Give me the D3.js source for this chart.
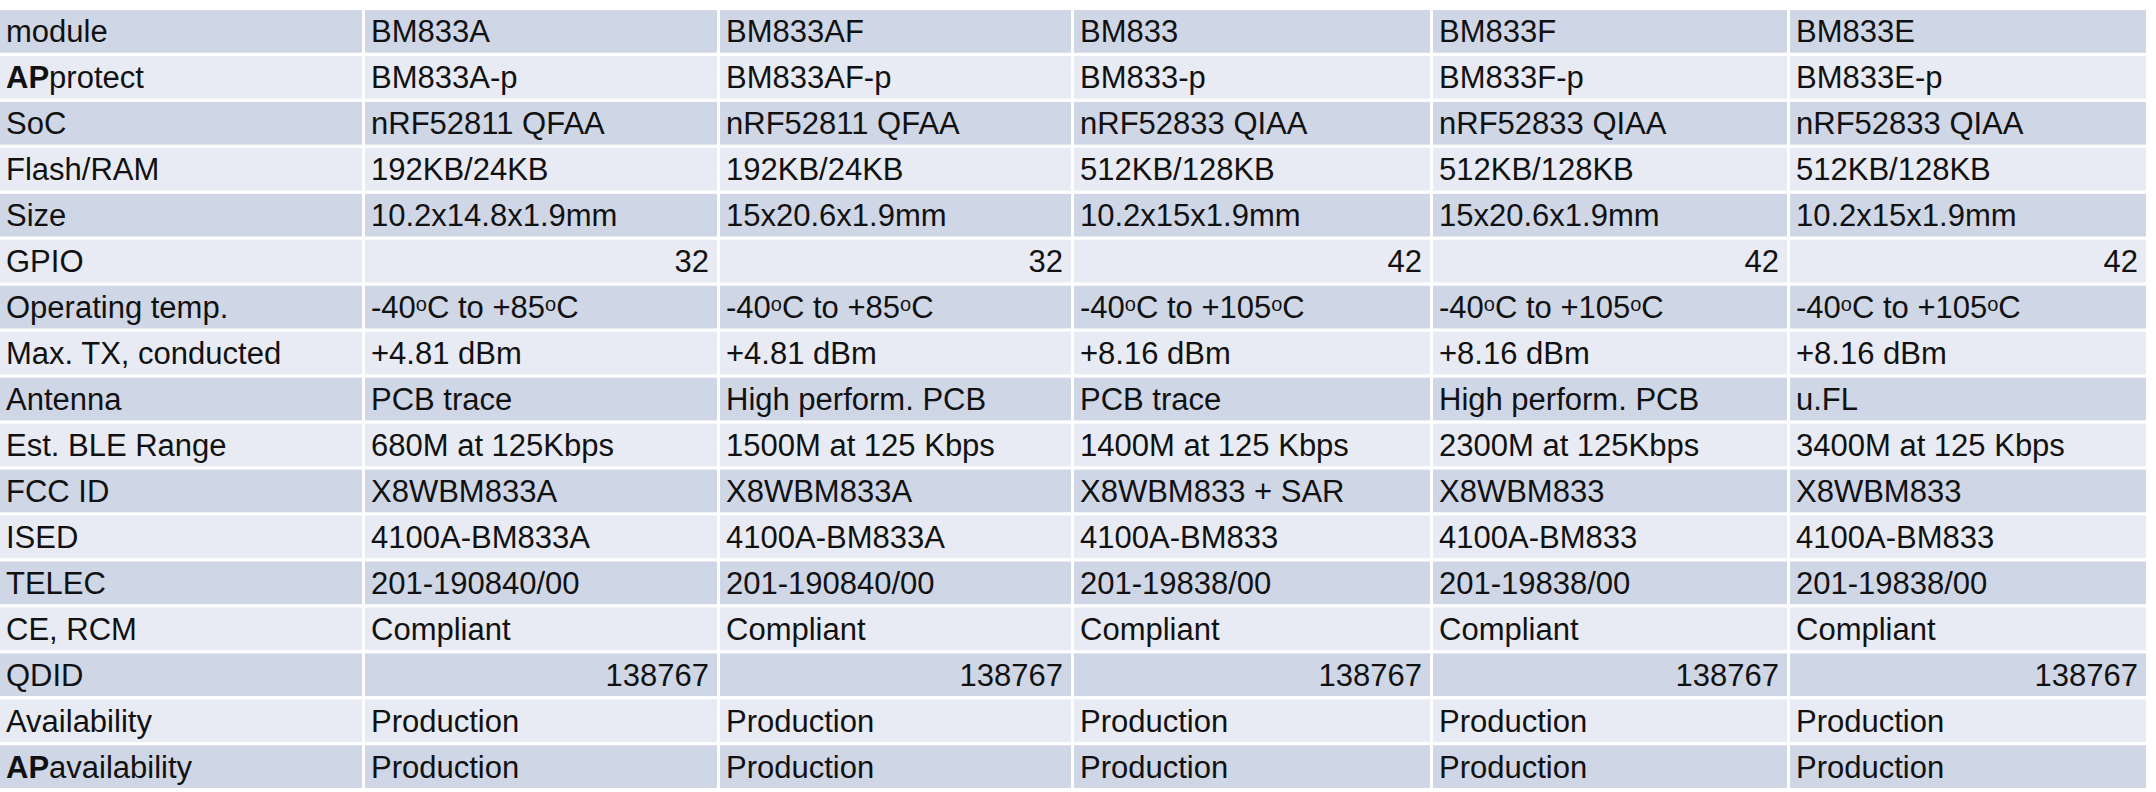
<html>
<body style="margin:0;background:#fff">
<div id="chart"></div>
<script src="https://d3js.org/d3.v7.min.js"></script>
<script>
// row labels (first column); "AP" prefix is drawn bold
var rowLabels = ["module", "APprotect", "SoC", "Flash/RAM", "Size", "GPIO", "Operating temp.",
  "Max. TX, conducted", "Antenna", "Est. BLE Range", "FCC ID", "ISED", "TELEC", "CE, RCM",
  "QDID", "Availability", "APavailability"];
var modules = ["BM833A", "BM833AF", "BM833", "BM833F", "BM833E"];
var approtect = ["BM833A-p", "BM833AF-p", "BM833-p", "BM833F-p", "BM833E-p"];
var soc = ["nRF52811 QFAA", "nRF52811 QFAA", "nRF52833 QIAA", "nRF52833 QIAA", "nRF52833 QIAA"];
var flashRam = ["192KB/24KB", "192KB/24KB", "512KB/128KB", "512KB/128KB", "512KB/128KB"];
var size = ["10.2x14.8x1.9mm", "15x20.6x1.9mm", "10.2x15x1.9mm", "15x20.6x1.9mm", "10.2x15x1.9mm"];
var gpio = [32, 32, 42, 42, 42];
var tempMax = ["+85", "+85", "+105", "+105", "+105"];
var maxTx = ["+4.81 dBm", "+4.81 dBm", "+8.16 dBm", "+8.16 dBm", "+8.16 dBm"];
var antenna = ["PCB trace", "High perform. PCB", "PCB trace", "High perform. PCB", "u.FL"];
var range = ["680M at 125Kbps", "1500M at 125 Kbps", "1400M at 125 Kbps", "2300M at 125Kbps", "3400M at 125 Kbps"];
var fccId = ["X8WBM833A", "X8WBM833A", "X8WBM833 + SAR", "X8WBM833", "X8WBM833"];
var ised = ["4100A-BM833A", "4100A-BM833A", "4100A-BM833", "4100A-BM833", "4100A-BM833"];
var telec = ["201-190840/00", "201-190840/00", "201-19838/00", "201-19838/00", "201-19838/00"];
var ceRcm = ["Compliant", "Compliant", "Compliant", "Compliant", "Compliant"];
var qdid = [138767, 138767, 138767, 138767, 138767];
var availability = ["Production", "Production", "Production", "Production", "Production"];
var apAvailability = ["Production", "Production", "Production", "Production", "Production"];

var rowValues = [modules, approtect, soc, flashRam, size, gpio, tempMax, maxTx, antenna, range,
  fccId, ised, telec, ceRcm, qdid, availability, apAvailability];

var W = 2156, H = 792;
var svg = d3.select("#chart").append("svg").attr("width", W).attr("height", H)
  .style("font-family", "'Liberation Sans', Arial, sans-serif");

var y = d3.scaleBand().domain(d3.range(rowLabels.length)).range([10, 788]).paddingInner(0.07);
// first column is wider than the module columns
var colEdges = [0, 362, 717, 1071, 1430, 1787, 2146];
var gap = 3;

var fs = 31;
rowLabels.forEach(function (lab, r) {
  var g = svg.append("g").attr("transform", "translate(0," + y(r) + ")");
  var fill = r % 2 === 0 ? "#cfd6e6" : "#e8ebf3";
  var cells = [lab].concat(rowValues[r]);
  cells.forEach(function (v, c) {
    var x0 = colEdges[c] + (c > 0 ? gap : 0), x1 = colEdges[c + 1];
    g.append("rect").attr("x", x0).attr("y", 0).attr("width", x1 - x0)
      .attr("height", y.bandwidth()).attr("fill", fill);
    var t = g.append("text").attr("y", y.bandwidth() / 2 + 11).attr("font-size", fs).attr("fill", "#111");
    if (typeof v === "number") {
      t.attr("x", x1 - 8).attr("text-anchor", "end").text(v);
    } else if (c === 0 && lab.indexOf("AP") === 0) {
      t.attr("x", x0 + 6);
      t.append("tspan").attr("font-weight", "bold").text("AP");
      t.append("tspan").text(lab.slice(2));
    } else if (r === 6 && c > 0) {
      t.attr("x", x0 + 6);
      t.append("tspan").text("-40");
      t.append("tspan").attr("font-size", 20).attr("dy", -7).text("o");
      t.append("tspan").attr("dy", 7).text("C to " + v);
      t.append("tspan").attr("font-size", 20).attr("dy", -7).text("o");
      t.append("tspan").attr("dy", 7).text("C");
    } else {
      t.attr("x", x0 + 6).text(v);
    }
  });
});
</script>
</body>
</html>
